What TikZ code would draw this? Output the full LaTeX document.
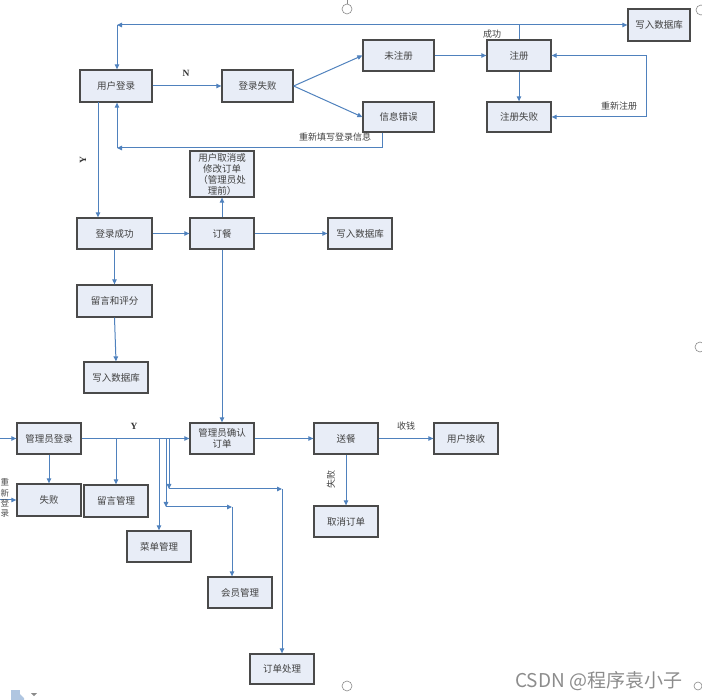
\documentclass[tikz,border=0pt]{standalone}
\usepackage{fontspec}
\setmainfont{Liberation Serif}
\newfontfamily\cjk{Noto Sans CJK SC}
\usetikzlibrary{arrows.meta}
\definecolor{lineblue}{HTML}{4F81BD}
\definecolor{boxfill}{HTML}{E8EDF7}
\definecolor{boxdraw}{HTML}{4A4A4A}
\definecolor{handle}{HTML}{8A8A8A}
\tikzset{
  box/.style={draw=boxdraw, line width=1.3pt, fill=boxfill, minimum width=64pt,
    minimum height=31pt, inner sep=1pt, font=\cjk\fontsize{9.5}{11}\selectfont,
    text=black!75, align=center},
  arr/.style={draw=lineblue, line width=1pt, -{Triangle[length=5pt,width=4.5pt]}},
  dbl/.style={draw=lineblue, line width=1pt, {Triangle[length=5pt,width=4.5pt]}-{Triangle[length=5pt,width=4.5pt]}},
  ln/.style={draw=lineblue, line width=1pt},
  lbl/.style={font=\cjk\fontsize{9}{10}\selectfont, text=black!75, inner sep=0pt},
  latin/.style={font=\fontsize{9.5}{10}\selectfont\bfseries, text=black!80, inner sep=0pt},
  hdl/.style={draw=handle, line width=0.6pt, fill=white},
}
\begin{document}
\begin{tikzpicture}[x=1pt,y=-1pt]
\useasboundingbox (0,0) rectangle (702,700);

% ---------- boxes ----------
\node[box, minimum width=72pt, minimum height=32pt] (login) at (116,86) {用户登录};
\node[box, minimum width=71pt, minimum height=32pt] (lfail) at (257.5,86) {登录失败};
\node[box, minimum width=71pt] (unreg) at (398.5,55.5) {未注册};
\node[box, minimum width=71pt, minimum height=30pt] (infoerr) at (398.5,117) {信息错误};
\node[box] (reg) at (519,55.5) {注册};
\node[box, minimum height=30pt] (regfail) at (519,117) {注册失败};
\node[box, minimum width=62pt, minimum height=32pt] (dbA) at (659,25) {写入数据库};
\node[box, minimum height=46pt, text width=54pt, inner sep=0pt] (ucancel) at (222,174) {用户取消或\\修改订单\\（管理员处\\理前）};
\node[box, minimum width=75pt] (succ) at (114.5,233.5) {登录成功};
\node[box] (order) at (222,233.5) {订餐};
\node[box] (dbB) at (360,233.5) {写入数据库};
\node[box, minimum width=75pt, minimum height=32pt] (comment) at (114.5,301) {留言和评分};
\node[box] (dbC) at (116,377.5) {写入数据库};
\node[box] (admin) at (49,438.5) {管理员登录};
\node[box, minimum height=32pt] (afail) at (49,500) {失败};
\node[box, minimum height=32pt] (msgm) at (116,501) {留言管理};
\node[box] (menum) at (159,546.5) {菜单管理};
\node[box] (memm) at (240,592.5) {会员管理};
\node[box, minimum height=30pt] (orderp) at (282,669) {订单处理};
\node[box] (confirm) at (222,438.5) {管理员确认\\订单};
\node[box] (deliver) at (346,438.5) {送餐};
\node[box] (recv) at (466,438.5) {用户接收};
\node[box] (cancelo) at (346,521.5) {取消订单};

% ---------- coordinates ----------
\coordinate (tl) at (117,25);
\coordinate (tr) at (519,25);
\coordinate (rfr) at (382,148);
\coordinate (rfl) at (117,148);
\coordinate (ain) at (0,438.5);
\coordinate (fin) at (0,500);
\coordinate (b1) at (116,438.5);
\coordinate (b2) at (159,438.5);
\coordinate (b3) at (166,438.5);
\coordinate (b3c) at (166,507);
\coordinate (b3r) at (232,507);
\coordinate (b4) at (169,438.5);
\coordinate (b4c) at (169,489);
\coordinate (b4r) at (282,489);

% ---------- connectors: user part ----------
\draw[ln] (reg.north) -- (tr);
\draw[arr] (tr) -- (tl);
\draw[arr] (tl) -- (tl |- login.north);
\draw[arr] (tr) -- (dbA.west);
\node[lbl] at (492,34) {成功};

\draw[arr] (login.east) -- (lfail.west);
\node[latin] at (186,73) {N};
\draw[arr] (lfail.east) -- (unreg.west);
\draw[arr] (lfail.east) -- (infoerr.west);
\draw[arr] (unreg.east) -- (reg.west);
\draw[arr] (reg.south) -- (regfail.north);
\draw[dbl] (regfail.east) -- ++(95,0) |- (reg.east);
\node[lbl] at (619,106) {重新注册};

\draw[arr] (rfr |- infoerr.south) -- (rfr) -- (rfl);
\draw[arr] (rfl) -- (rfl |- login.south);
\node[lbl] at (335,137) {重新填写登录信息};

\coordinate (ytop) at (98,102);
\draw[arr] (ytop) -- (ytop |- succ.north);
\node[latin, rotate=90] at (83,160) {Y};

\draw[arr] (succ.east) -- (order.west);
\draw[arr] (order.north) -- (ucancel.south);
\draw[arr] (order.east) -- (dbB.west);
\draw[arr] (succ.south) -- (comment.north);
\draw[arr] (comment.south) -- (dbC.north);
\draw[arr] (order.south) -- (confirm.north);

% ---------- connectors: admin part ----------
\draw[arr] (ain) -- (admin.west);
\draw[arr] (admin.east) -- (confirm.west);
\node[latin] at (134,426) {Y};
\draw[arr] (admin.south) -- (afail.north);
\draw[arr] (fin) -- (afail.west);
\node[font=\cjk\fontsize{8.5}{10.3}\selectfont, text=black!70, align=center, inner sep=0pt] at (5,498) {重\\新\\登\\录};

\draw[arr] (b1) -- (msgm.north);
\draw[arr] (b2) -- (menum.north);
\draw[arr] (b3) -- (b3c);
\draw[arr] (b3c) -- (b3r);
\draw[arr] (b3r) -- (b3r |- memm.north);
\draw[arr] (b4) -- (b4c);
\draw[arr] (b4c) -- (b4r);
\draw[arr] (b4r) -- (orderp.north);

\draw[arr] (confirm.east) -- (deliver.west);
\draw[arr] (deliver.east) -- (recv.west);
\node[lbl] at (406,426) {收钱};
\draw[arr] (deliver.south) -- (cancelo.north);
\node[lbl, rotate=90] at (331,480) {失败};

% ---------- editor handles and watermark ----------
\draw[handle, line width=0.6pt] (347,0) -- (347,4);
\draw[hdl] (347,9) circle (5);
\draw[hdl] (701,10) circle (5);
\draw[hdl] (700,347) circle (5);
\draw[hdl] (347,686) circle (5);
\draw[hdl] (698,686) circle (4);
\node[font=\cjk\fontsize{19}{20}\selectfont, text=black!45, inner sep=0pt, anchor=west] at (515,681) {CSDN @程序袁小子};
\fill[lineblue!45] (11,690) rectangle (20,700);
\fill[lineblue!45] (20,694) -- (24,698) -- (24,700) -- (20,700) -- cycle;
\fill[handle] (31,693) -- (37,693) -- (34,696) -- cycle;
\end{tikzpicture}
\end{document}
